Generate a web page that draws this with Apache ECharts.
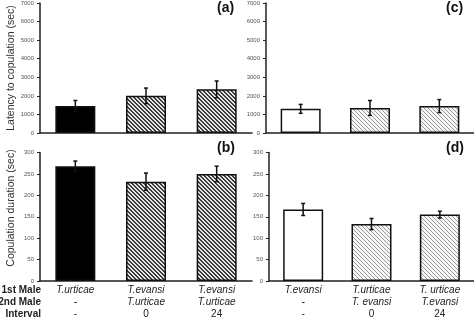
<!DOCTYPE html>
<html>
<head>
<meta charset="utf-8">
<script src="https://cdn.jsdelivr.net/npm/echarts@6/dist/echarts.min.js"></script>
<style>
html,body{margin:0;padding:0;background:#fff;}
#chart{width:474px;height:323px;}
</style>
</head>
<body>
<div id="chart"></div>
<script>
// Mating trials: latency to copulation and copulation duration (mean ± SE)
const firstMaleLeft = ['T.urticae', 'T.evansi', 'T.evansi'];
const secondMaleLeft = ['-', 'T.urticae', 'T.urticae'];
const intervalLeft = ['-', '0', '24'];
const firstMaleRight = ['T.evansi', 'T.urticae', 'T. urticae'];
const secondMaleRight = ['-', 'T. evansi', 'T.evansi'];
const intervalRight = ['-', '0', '24'];

const latencyLeft = [1450, 2000, 2350];
const latencyLeftErr = [300, 420, 450];
const latencyRight = [1300, 1350, 1450];
const latencyRightErr = [240, 400, 350];
const durationLeft = [268, 232, 250];
const durationLeftErr = [12, 20, 18];
const durationRight = [167, 133, 155];
const durationRightErr = [14, 13, 8];

const latencyTicks = [0, 1000, 2000, 3000, 4000, 5000, 6000, 7000];
const durationTicks = [0, 50, 100, 150, 200, 250, 300];

function hatch(line, bg, thick) {
  const s = 4;
  const c = document.createElement('canvas');
  c.width = s; c.height = s;
  const ctx = c.getContext('2d');
  ctx.fillStyle = bg; ctx.fillRect(0, 0, s, s);
  ctx.fillStyle = line;
  for (let i = 0; i < s; i++) {
    ctx.fillRect(i, i, 1, 1);
    if (thick) ctx.fillRect((i + 1) % s, i, 1, 1);
  }
  return { image: c, repeat: 'repeat' };
}
const darkHatch = hatch('#3a3a3a', '#e6e6e6', true);
const lightHatch = hatch('#9a9a9a', '#f6f6f6', false);

const fills = [
  ['#000000', darkHatch, darkHatch],
  ['#ffffff', lightHatch, lightHatch]
];

const chart = echarts.init(document.getElementById('chart'), null, { renderer: 'canvas' });

const grids = [
  { left: 40, top: 3, width: 212, height: 130 },
  { left: 40, top: 152.5, width: 212, height: 128.5 },
  { left: 266, top: 3, width: 212, height: 130 },
  { left: 269, top: 152.5, width: 212, height: 128.5 }
];

function catLabels(a, b, c) {
  return a.map((v, i) => '{i|' + v + '}\n{i|' + b[i] + '}\n{n|' + c[i] + '}');
}

const axisLine = { show: true, lineStyle: { color: '#222', width: 1.5 } };
const rich = {
  i: { fontStyle: 'italic', fontFamily: 'Liberation Sans', fontSize: 10, color: '#222', lineHeight: 12 },
  n: { fontFamily: 'Liberation Sans', fontSize: 10, color: '#222', lineHeight: 12 }
};

function xAxis(gi, labels) {
  return {
    type: 'category', gridIndex: gi,
    data: labels || ['', '', ''],
    axisLine: axisLine, axisTick: { show: false },
    axisLabel: labels ? { show: true, margin: 3, rich: rich, interval: 0 } : { show: false }
  };
}
function yAxis(gi, ticks) {
  return {
    type: 'value', gridIndex: gi,
    min: ticks[0], max: ticks[ticks.length - 1], interval: ticks[1] - ticks[0],
    axisLine: axisLine,
    axisTick: { show: true, length: 3, lineStyle: { color: '#222', width: 1 } },
    axisLabel: {
      fontSize: 6, color: '#555', fontFamily: 'Liberation Sans', margin: 6,
      formatter: v => String(v)
    },
    splitLine: { show: false }
  };
}

const panels = [
  { vals: latencyLeft, errs: latencyLeftErr, fill: fills[0] },
  { vals: durationLeft, errs: durationLeftErr, fill: fills[0] },
  { vals: latencyRight, errs: latencyRightErr, fill: fills[1] },
  { vals: durationRight, errs: durationRightErr, fill: fills[1] }
];

const series = [];
panels.forEach((p, gi) => {
  series.push({
    type: 'bar', xAxisIndex: gi, yAxisIndex: gi, barWidth: 40,
    data: p.vals.map((v, i) => ({
      value: v,
      itemStyle: { color: p.fill[i], borderColor: '#111', borderWidth: 1.5 }
    })),
    silent: true
  });
  series.push({
    type: 'custom', xAxisIndex: gi, yAxisIndex: gi, z: 5, silent: true,
    data: p.vals.map((v, i) => [i, v, p.errs[i]]),
    renderItem: function (params, api) {
      const i = api.value(0), v = api.value(1), e = api.value(2);
      const hi = api.coord([i, v + e]);
      const lo = api.coord([i, v - e]);
      const st = { stroke: '#111', lineWidth: 1.5 };
      const cap = 2;
      return {
        type: 'group',
        children: [
          { type: 'line', shape: { x1: hi[0], y1: hi[1], x2: lo[0], y2: lo[1] }, style: st },
          { type: 'line', shape: { x1: hi[0] - cap, y1: hi[1], x2: hi[0] + cap, y2: hi[1] }, style: st },
          { type: 'line', shape: { x1: lo[0] - cap, y1: lo[1], x2: lo[0] + cap, y2: lo[1] }, style: st }
        ]
      };
    }
  });
});

const tag = (t, x, y) => ({
  type: 'text', left: x, top: y,
  style: { text: t, fontSize: 14, fontWeight: 'bold', fontFamily: 'Liberation Sans', fill: '#111' }
});
const rowLabel = (t, y) => ({
  type: 'text', x: 41, y: y,
  style: { text: t, fontSize: 10, fontWeight: 'bold', fontFamily: 'Liberation Sans', fill: '#222', align: 'right', verticalAlign: 'middle' }
});
const yName = (t, y) => ({
  type: 'text', x: 11, y: y, rotation: Math.PI / 2,
  style: { text: t, fontSize: 10.5, fontFamily: 'Liberation Sans', fill: '#333', align: 'center', verticalAlign: 'middle' }
});

chart.setOption({
  animation: false,
  grid: grids,
  xAxis: [
    xAxis(0, null),
    xAxis(1, catLabels(firstMaleLeft, secondMaleLeft, intervalLeft)),
    xAxis(2, null),
    xAxis(3, catLabels(firstMaleRight, secondMaleRight, intervalRight))
  ],
  yAxis: [yAxis(0, latencyTicks), yAxis(1, durationTicks), yAxis(2, latencyTicks), yAxis(3, durationTicks)],
  series: series,
  graphic: [
    tag('(a)', 217, 1),
    tag('(b)', 217, 141),
    tag('(c)', 446, 1),
    tag('(d)', 446, 141),
    rowLabel('1st Male', 290),
    rowLabel('2nd Male', 302.5),
    rowLabel('Interval', 314.5),
    yName('Latency to copulation (sec)', 68),
    yName('Copulation duration (sec)', 208)
  ]
});
</script>
</body>
</html>
